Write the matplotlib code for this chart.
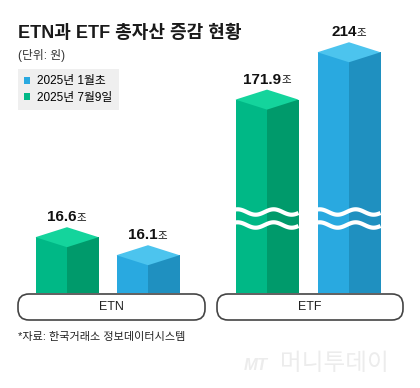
import matplotlib
matplotlib.use('Agg')
import matplotlib.pyplot as plt
import numpy as np
from matplotlib.patches import Polygon, FancyBboxPatch, Patch
from matplotlib.offsetbox import TextArea, HPacker, AnnotationBbox

plt.rcParams['font.family'] = ['Liberation Sans', 'Noto Sans CJK KR']

# Data (unit: 조 원)
groups = ['ETN', 'ETF']
series = ['2025년 7월9일', '2025년 1월초']
etn_values = [16.6, 16.1]
etf_values = [171.9, 214]
unit_suffix = '조'

title = 'ETN과 ETF 총자산 증감 현황'
subtitle = '(단위: 원)'
source = '*자료: 한국거래소 정보데이터시스템'

green = {'top': '#14d49c', 'left': '#00b886', 'right': '#009a6b'}
blue = {'top': '#4cc4ee', 'left': '#29a9e0', 'right': '#1f90c0'}
colors = [green, blue]

W, H = 420, 388
fig = plt.figure(figsize=(W / 100, H / 100), dpi=100)


def px_axes(x0, x1, ytop, ybot):
    return fig.add_axes([x0 / W, 1 - ybot / H, (x1 - x0) / W, (ybot - ytop) / H])


def draw_boxes(ax, values, ymin, ppu, left_px, right_px, first_px, step_px, broken=False):
    height_px = 273
    ax.set_xlim(-(first_px - left_px) / step_px, (right_px - first_px) / step_px)
    ax.set_ylim(ymin, ymin + height_px / ppu)
    ax.axis('off')
    w = 63 / step_px
    dv = 10 / ppu
    for i, v in enumerate(values):
        c = colors[i]
        ax.bar(i - w / 4, v, width=w / 2, color=c['left'], linewidth=0)
        ax.bar(i + w / 4, v, width=w / 2, color=c['right'], linewidth=0)
        ax.add_patch(Polygon([(i - w / 2, v), (i, v + dv), (i + w / 2, v), (i, v - dv)],
                             closed=True, facecolor=c['top'], edgecolor='none', zorder=3))
        if broken:
            xs = np.linspace(i - w / 2, i + w / 2, 80)
            for yb in (81, 68):
                ys = (yb + 2.7 * np.sin(2 * np.pi * (xs - (i - w / 2)) * step_px / 36 + 1.2)) / height_px
                ax.plot(xs, ys, color='white', lw=3, solid_capstyle='butt',
                        transform=ax.get_xaxis_transform(), zorder=4)
        label = HPacker(children=[
            TextArea(f'{v:g}', textprops=dict(fontsize=11, fontweight='bold', color='#111111')),
            TextArea(unit_suffix, textprops=dict(fontsize=7.5, color='#111111'))],
            align='baseline', pad=0, sep=0)
        ab = AnnotationBbox(label, (i, v), xybox=(0, 20), xycoords='data',
                            boxcoords='offset pixels', frameon=False,
                            box_alignment=(0.5, 0.5), annotation_clip=False)
        ax.add_artist(ab)


ax_etn = px_axes(18, 205, 20, 293)
draw_boxes(ax_etn, etn_values, 15.05, 36, 18, 205, 67, 81)

ax_etf = px_axes(217, 403, 20, 293)
draw_boxes(ax_etf, etf_values, 0, 1.125, 217, 403, 267, 82, broken=True)

# overlay for text and decorations
ov = fig.add_axes([0, 0, 1, 1], zorder=5)
ov.set_xlim(0, W)
ov.set_ylim(H, 0)
ov.axis('off')
ov.patch.set_alpha(0)

ov.text(18, 33, title, fontsize=13, fontweight='bold', color='#1a1a1a', va='center')
ov.text(18, 55, subtitle, fontsize=8.5, color='#333333', va='center')
ov.text(18, 337, source, fontsize=8, color='#222222', va='center')

for name, x0, x1 in [(groups[0], 18, 205), (groups[1], 217, 403)]:
    ov.add_patch(FancyBboxPatch((x0, 294), x1 - x0, 26,
                                boxstyle='round,pad=0,rounding_size=11',
                                facecolor='white', edgecolor='#444444', lw=1.2))
    ov.text((x0 + x1) / 2, 307, name, fontsize=9, color='#222222', ha='center', va='center')

handles = [Patch(facecolor=blue['left']), Patch(facecolor=green['left'])]
leg = ov.legend(handles, [series[1], series[0]], loc='upper left',
                bbox_to_anchor=(18 / W, 1 - 69 / H), bbox_transform=fig.transFigure,
                frameon=True, facecolor='#efefef', edgecolor='none', fancybox=False,
                framealpha=1, fontsize=8.5, handlelength=0.5, handleheight=0.5,
                handletextpad=0.55, borderpad=0.55, labelspacing=0.35, borderaxespad=0)

# faint watermark
ov.text(268, 365, 'MT', fontsize=12, fontweight='bold', fontstyle='italic',
        color='#ececec', ha='right', va='center')
ov.text(280, 364, '머니투데이', fontsize=17, color='#ececec', va='center')

fig.savefig('out.png', dpi=100)
